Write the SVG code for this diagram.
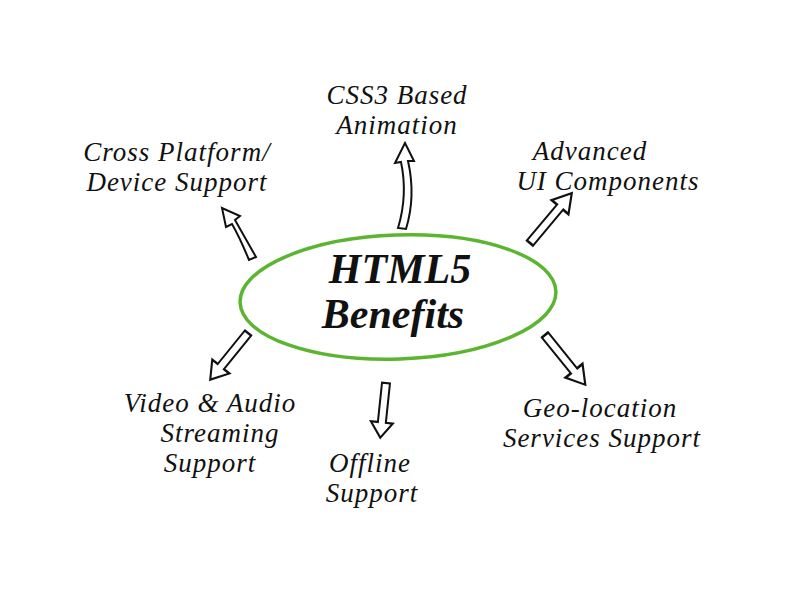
<svg xmlns="http://www.w3.org/2000/svg" width="800" height="604" viewBox="0 0 800 604">
<style>
text{font-family:"Liberation Serif",serif;font-style:italic;font-size:27px;fill:#111;text-anchor:middle;letter-spacing:1px}
.big{font-size:42px;font-weight:bold;letter-spacing:0}
.arr{fill:#fff;stroke:#111;stroke-width:2;stroke-linejoin:miter}
</style>
<defs>
<path id="a" class="arr" d="M-4,0 L-4,-36 L-11,-36 L0,-50 L11,-36 L4,-36 L4,0 Z"/>
</defs>
<rect width="800" height="604" fill="#fff"/>
<g id="connectors">
<path class="arr" d="M249,260 Q240,238 232,224 L226,227 L222,208 L240,216 L235,220 Q244,236 256,257 Z"/>
<path class="arr" d="M398,228 Q408,195 401,162 L395,163 L405,143 L414,161 L408,161 Q416,196 406,229 Z"/>
<use href="#a" transform="translate(530,243) rotate(40) scale(1,1.3)"/>
<use href="#a" transform="translate(248,333) rotate(-141) scale(1,1.2)"/>
<use href="#a" transform="translate(386,383) rotate(186) scale(1,1.1)"/>
<use href="#a" transform="translate(545,335) rotate(141) scale(1,1.28)"/>
</g>
<g id="center">
<ellipse cx="398" cy="297" rx="158" ry="62" fill="none" stroke="#5cb531" stroke-width="3.5" transform="rotate(-2 398 297)"/>
<text class="big" x="400" y="283">HTML5</text>
<text class="big" x="393" y="328">Benefits</text>
</g>
<g id="css3"><text x="397" y="104">CSS3 Based</text><text x="397" y="134">Animation</text></g>
<g id="cross"><text x="177" y="161">Cross Platform/</text><text x="177" y="191">Device Support</text></g>
<g id="ui"><text x="590" y="160">Advanced</text><text x="608" y="190">UI Components</text></g>
<g id="video"><text x="210" y="412">Video &amp; Audio</text><text x="220" y="442">Streaming</text><text x="210" y="472">Support</text></g>
<g id="offline"><text x="370" y="472">Offline</text><text x="372" y="502">Support</text></g>
<g id="geo"><text x="600" y="417">Geo-location</text><text x="602" y="447">Services Support</text></g>
</svg>
